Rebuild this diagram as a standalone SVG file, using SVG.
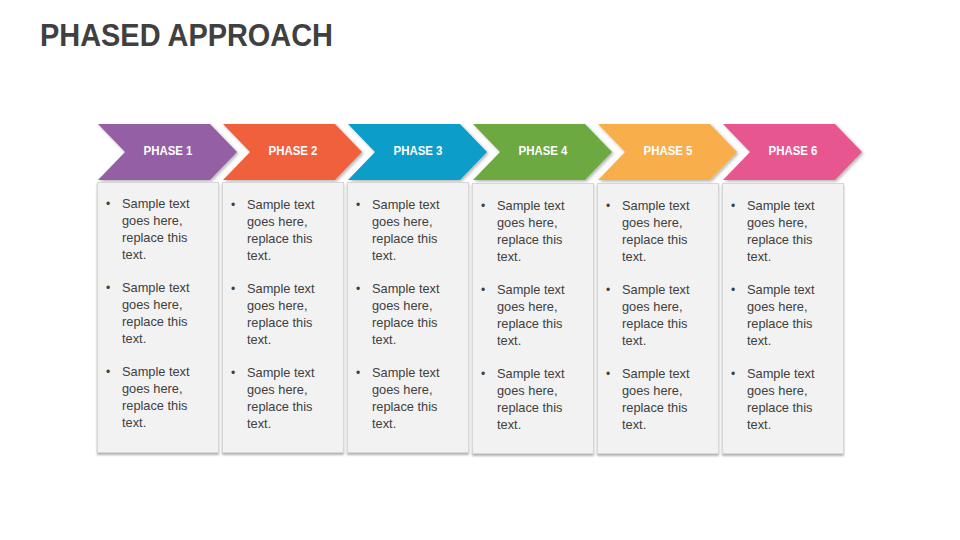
<svg xmlns="http://www.w3.org/2000/svg" width="960" height="540" viewBox="0 0 960 540">
<defs>
<style>
.title{font-family:"Liberation Sans",Arial,sans-serif;font-weight:bold;font-size:31px;fill:#404040}
.ph{font-family:"Liberation Sans",Arial,sans-serif;font-weight:bold;font-size:12.5px;fill:#ffffff;text-anchor:middle}
.box{fill:#f2f2f2;stroke:#d6d6d6;stroke-width:1}
.tx{font-family:"Liberation Sans",Arial,sans-serif;font-size:12.8px;fill:#404040}
.bl{font-family:"Liberation Sans",Arial,sans-serif;font-size:12px;fill:#404040}
</style>
<filter id="sh" x="-10%" y="-10%" width="125%" height="130%">
<feDropShadow dx="1.5" dy="1.5" stdDeviation="1.5" flood-color="#000" flood-opacity="0.3"/>
</filter>
<filter id="bsh" x="-10%" y="-5%" width="120%" height="110%">
<feDropShadow dx="0" dy="2" stdDeviation="1.2" flood-color="#000" flood-opacity="0.3"/>
</filter>
<path id="chev" d="M0,0 H112 L139,28 L112,56 H0 L27,28 Z"/>
<g id="items">
<text class="bl" x="9" y="26">•</text>
<text class="tx" x="25" y="26">Sample text</text>
<text class="tx" x="25" y="43">goes here,</text>
<text class="tx" x="25" y="60">replace this</text>
<text class="tx" x="25" y="77">text.</text>
<text class="bl" x="9" y="110">•</text>
<text class="tx" x="25" y="110">Sample text</text>
<text class="tx" x="25" y="127">goes here,</text>
<text class="tx" x="25" y="144">replace this</text>
<text class="tx" x="25" y="161">text.</text>
<text class="bl" x="9" y="194">•</text>
<text class="tx" x="25" y="194">Sample text</text>
<text class="tx" x="25" y="211">goes here,</text>
<text class="tx" x="25" y="228">replace this</text>
<text class="tx" x="25" y="245">text.</text>
</g>
</defs>
<rect width="960" height="540" fill="#ffffff"/>
<text class="title" x="40" y="46" textLength="293" lengthAdjust="spacingAndGlyphs">PHASED APPROACH</text>

<g id="phase1">
<use href="#chev" x="98" y="124" fill="#955fa5" filter="url(#sh)"/>
<text class="ph" x="168" y="155" textLength="49" lengthAdjust="spacingAndGlyphs">PHASE 1</text>
<rect class="box" x="97.5" y="182.5" width="121" height="270" filter="url(#bsh)"/>
<use href="#items" x="97" y="182"/>
</g>
<g id="phase2">
<use href="#chev" x="223" y="124" fill="#f0603c" filter="url(#sh)"/>
<text class="ph" x="293" y="155" textLength="49" lengthAdjust="spacingAndGlyphs">PHASE 2</text>
<rect class="box" x="222.5" y="182.5" width="121" height="270" filter="url(#bsh)"/>
<use href="#items" x="222" y="183"/>
</g>
<g id="phase3">
<use href="#chev" x="348" y="124" fill="#0c9dc9" filter="url(#sh)"/>
<text class="ph" x="418" y="155" textLength="49" lengthAdjust="spacingAndGlyphs">PHASE 3</text>
<rect class="box" x="347.5" y="182.5" width="121" height="270" filter="url(#bsh)"/>
<use href="#items" x="347" y="183"/>
</g>
<g id="phase4">
<use href="#chev" x="473" y="124" fill="#6ca940" filter="url(#sh)"/>
<text class="ph" x="543" y="155" textLength="49" lengthAdjust="spacingAndGlyphs">PHASE 4</text>
<rect class="box" x="472.5" y="183.5" width="121" height="270" filter="url(#bsh)"/>
<use href="#items" x="472" y="184"/>
</g>
<g id="phase5">
<use href="#chev" x="598" y="124" fill="#f8af4b" filter="url(#sh)"/>
<text class="ph" x="668" y="155" textLength="49" lengthAdjust="spacingAndGlyphs">PHASE 5</text>
<rect class="box" x="597.5" y="183.5" width="121" height="270" filter="url(#bsh)"/>
<use href="#items" x="597" y="184"/>
</g>
<g id="phase6">
<use href="#chev" x="723" y="124" fill="#e8578f" filter="url(#sh)"/>
<text class="ph" x="793" y="155" textLength="49" lengthAdjust="spacingAndGlyphs">PHASE 6</text>
<rect class="box" x="722.5" y="183.5" width="121" height="270" filter="url(#bsh)"/>
<use href="#items" x="722" y="184"/>
</g>
<g id="connectors"/>
</svg>
